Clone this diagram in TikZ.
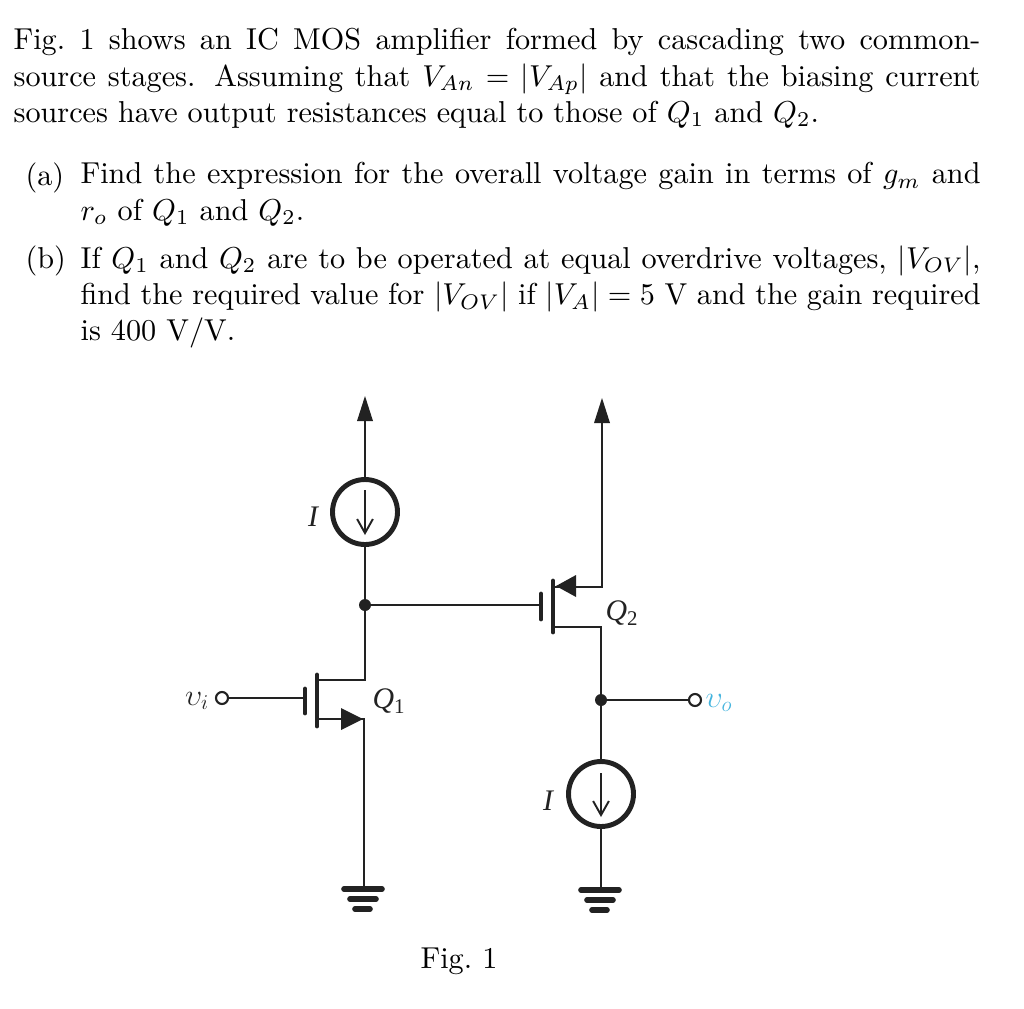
\documentclass[tikz,border=0pt]{standalone}
\usepackage{fontspec}
\usetikzlibrary{arrows.meta}
\newfontfamily\figfont{Liberation Serif}
\definecolor{voblue}{HTML}{45B4DE}
\definecolor{wirecol}{HTML}{222222}
\tikzset{
    wire/.style={draw=wirecol,line width=1.1pt},
    plate/.style={draw=wirecol,line width=2.8pt,line cap=round},
    gnd/.style={draw=wirecol,line width=3.2pt,line cap=round},
    isrc/.style={circle,draw=wirecol,line width=2.8pt,minimum size=1.3cm,inner sep=0pt},
    dot/.style={circle,fill=wirecol,inner sep=0pt,minimum size=0.24cm},
    term/.style={circle,draw=wirecol,fill=white,line width=1.2pt,inner sep=0pt,minimum size=0.24cm},
    body/.style={inner sep=0pt,align=justify,scale=1.72,transform shape},
    lab/.style={inner sep=0pt,text=wirecol,font=\figfont\fontsize{17}{17}\selectfont\itshape},
}
\begin{document}
\begin{tikzpicture}[x=0.02cm,y=-0.02cm]
    \useasboundingbox (0,0) rectangle (1024,1008);

    \node[body,anchor=north west,text width=11.244cm] (intro) at (13,28) {Fig.~1 shows an IC MOS amplifier formed by cascading two common-\linebreak source stages. Assuming that $V_{An}=|V_{Ap}|$ and that the biasing current\linebreak sources have output resistances equal to those of $Q_1$ and $Q_2$.};
    \node[body,anchor=north west] (parta) at (25,162) {(a)};
    \node[body,anchor=north west,text width=10.467cm] (texta) at (80,162) {Find the expression for the overall voltage gain in terms of $g_m$ and\linebreak $r_o$ of $Q_1$ and $Q_2$.};
    \node[body,anchor=north west] (partb) at (25,245) {(b)};
    \node[body,anchor=north west,text width=10.467cm] (textb) at (80,245) {If $Q_1$ and $Q_2$ are to be operated at equal overdrive voltages, $|V_{OV}|$,\linebreak find the required value for $|V_{OV}|$ if $|V_A|=5$ V and the gain required\linebreak is 400 V/V.};
    \node[body] (figlab) at (459,961) {Fig.~1};

    % left stage
    \coordinate (TopL) at (365,421);
    \node[isrc] (SrcL) at (365,512) {};
    \node[dot] (JoinL) at (365,605) {};
    \coordinate (DrainL) at (365,680);
    \coordinate (ChanDL) at (317,680);
    \coordinate (SourceL) at (364,719);
    \coordinate (ChanSL) at (317,719);
    \coordinate (GateL) at (305,698);
    \node[term] (InL) at (222,698) {};
    \coordinate (GndL) at (364,889);

    \draw[wire] (TopL) -- (SrcL);
    \draw[wire] (SrcL) -- (JoinL);
    \draw[wire] (JoinL) -- (DrainL) -- (ChanDL);
    \draw[wire] (ChanSL) -- (SourceL) -- (GndL);
    \draw[wire] (InL) -- (GateL);
    \draw[plate] (317,675) -- (317,726);
    \draw[plate] (305,689) -- (305,713);
    \draw [fill=wirecol,draw=none](341,708) -- (341,730) -- (363,719) -- cycle;
    \draw [fill=wirecol,draw=none](357,421) -- (373,421) -- (365,396) -- cycle;
    \draw[wire,-{Straight Barb[length=8pt,width=9pt]}] (365,490) -- (365,535);
    \draw[gnd] (GndL) ++(-20,0) -- ++(38,0);
    \draw[gnd] (GndL) ++(-14,10) -- ++(26,0);
    \draw[gnd] (GndL) ++(-9,20) -- ++(15,0);

    % right stage
    \coordinate (TopR) at (602,423);
    \coordinate (SourceR) at (602,587);
    \coordinate (ChanSR) at (553,587);
    \coordinate (DrainR) at (601,627);
    \coordinate (ChanDR) at (553,627);
    \coordinate (GateR) at (541,605);
    \node[dot] (JoinR) at (601,700) {};
    \node[term] (OutR) at (695,700) {};
    \node[isrc] (SrcR) at (601,794) {};
    \coordinate (GndR) at (601,890);

    \draw[wire] (JoinL) -- (GateR);
    \draw[wire] (TopR) -- (SourceR) -- (ChanSR);
    \draw[wire] (ChanDR) -- (DrainR) -- (JoinR);
    \draw[wire] (JoinR) -- (OutR);
    \draw[wire] (JoinR) -- (SrcR);
    \draw[wire] (SrcR) -- (GndR);
    \draw[plate] (553,581) -- (553,632);
    \draw[plate] (541,594) -- (541,619);
    \draw [fill=wirecol,draw=none](576,575) -- (576,597) -- (556,586) -- cycle;
    \draw [fill=wirecol,draw=none](594,423) -- (610,423) -- (602,398) -- cycle;
    \draw[wire,-{Straight Barb[length=8pt,width=9pt]}] (601,773) -- (601,817);
    \draw[gnd] (GndR) ++(-20,0) -- ++(38,0);
    \draw[gnd] (GndR) ++(-14,10) -- ++(26,0);
    \draw[gnd] (GndR) ++(-9,20) -- ++(15,0);

    \node[lab] (ILeft) at (313,517) {I};
    \node[lab] (IRight) at (548,801) {I};
    \node[lab] (QOne) at (389,701) {Q\textsubscript{\upshape 1}};
    \node[lab] (QTwo) at (622,613) {Q\textsubscript{\upshape 2}};
    \node[inner sep=0pt,text=wirecol] (vin) at (197,701) {\fontsize{17}{17}\selectfont$\upsilon_i$};
    \node[inner sep=0pt,text=voblue] (vout) at (719,703) {\fontsize{17}{17}\selectfont$\upsilon_o$};
\end{tikzpicture}
\end{document}
